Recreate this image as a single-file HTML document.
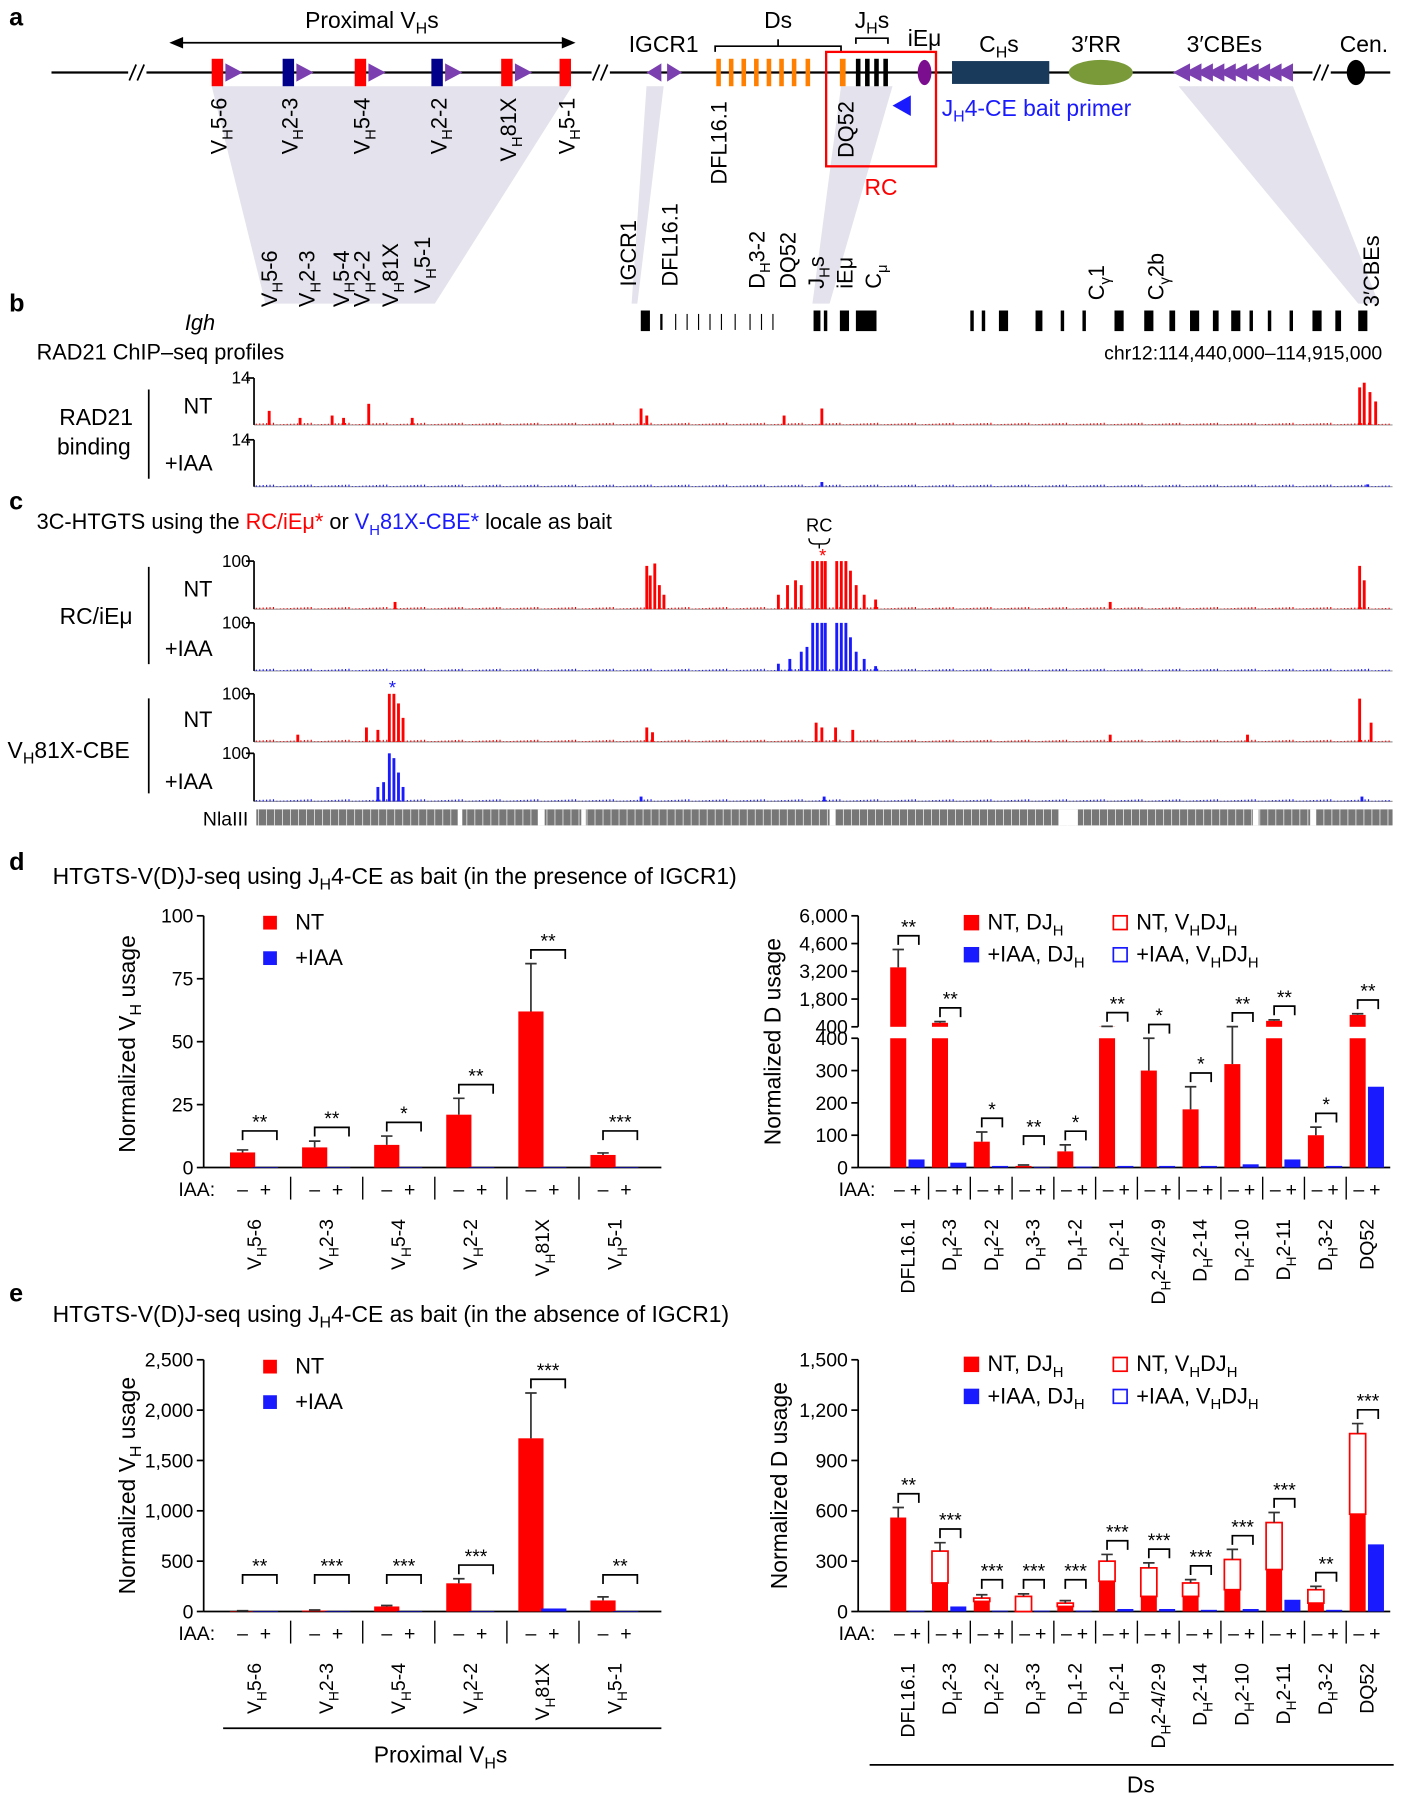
<!DOCTYPE html>
<html><head><meta charset="utf-8"><style>
html,body{margin:0;padding:0;background:#fff;}
svg{display:block;font-family:"Liberation Sans",Arial,sans-serif;}
text{font-family:"Liberation Sans",Arial,sans-serif;}
</style></head><body>
<svg id="fig" xmlns="http://www.w3.org/2000/svg" width="1412" height="1795" viewBox="0 0 1234 1568">
<rect x="0" y="0" width="1234" height="1568" fill="#fff"/>
<g id="panelA">
<g fill="#e4e2ec">
<polygon points="185,75 500,75 380,265 232,265"/>
<polygon points="565,75 580,75 557,265 552,265"/>
<polygon points="735,75 780,75 725,265 710,265"/>
<polygon points="1030,75 1130,75 1205,265 1187,265"/>
</g>
<text x="8" y="22" font-size="22" font-weight="bold">a</text>
<line x1="45" y1="63" x2="1215" y2="63" stroke="#000" stroke-width="2"/>
<g fill="#fff" stroke="#000" stroke-width="1.5">
<rect x="112" y="55" width="16" height="16" stroke="none"/><line x1="113" y1="70" x2="119" y2="56"/><line x1="120" y1="70" x2="126" y2="56"/>
<rect x="517" y="55" width="16" height="16" stroke="none"/><line x1="518" y1="70" x2="524" y2="56"/><line x1="525" y1="70" x2="531" y2="56"/>
<rect x="1147" y="55" width="16" height="16" stroke="none"/><line x1="1148" y1="70" x2="1154" y2="56"/><line x1="1155" y1="70" x2="1161" y2="56"/>
</g>
<line x1="155" y1="37" x2="496" y2="37" stroke="#000" stroke-width="1.5"/>
<polygon points="148,37 160,32 160,42" fill="#000"/><polygon points="503,37 491,32 491,42" fill="#000"/>
<text x="325" y="24" font-size="20" text-anchor="middle">Proximal V<tspan font-size="14" dy="5">H</tspan><tspan dy="-5">s</tspan></text>
<g>
<rect x="185" y="51" width="10" height="24" fill="#f00"/><polygon points="197,55 212,63 197,71" fill="#7b3fb0"/>
<rect x="247" y="51" width="10" height="24" fill="#00008b"/><polygon points="259,55 274,63 259,71" fill="#7b3fb0"/>
<rect x="310" y="51" width="10" height="24" fill="#f00"/><polygon points="322,55 337,63 322,71" fill="#7b3fb0"/>
<rect x="377" y="51" width="10" height="24" fill="#00008b"/><polygon points="389,55 404,63 389,71" fill="#7b3fb0"/>
<rect x="438" y="51" width="10" height="24" fill="#f00"/><polygon points="450,55 465,63 450,71" fill="#7b3fb0"/>
<rect x="489" y="51" width="10" height="24" fill="#f00"/>
</g>
<g font-size="19" text-anchor="end">
<text transform="translate(198,85) rotate(-90)">V<tspan font-size="13" dy="5">H</tspan><tspan dy="-5">5-6</tspan></text>
<text transform="translate(260,85) rotate(-90)">V<tspan font-size="13" dy="5">H</tspan><tspan dy="-5">2-3</tspan></text>
<text transform="translate(323,85) rotate(-90)">V<tspan font-size="13" dy="5">H</tspan><tspan dy="-5">5-4</tspan></text>
<text transform="translate(390,85) rotate(-90)">V<tspan font-size="13" dy="5">H</tspan><tspan dy="-5">2-2</tspan></text>
<text transform="translate(451,85) rotate(-90)">V<tspan font-size="13" dy="5">H</tspan><tspan dy="-5">81X</tspan></text>
<text transform="translate(502,85) rotate(-90)">V<tspan font-size="13" dy="5">H</tspan><tspan dy="-5">5-1</tspan></text>
</g>
<text x="580" y="45" font-size="20" text-anchor="middle">IGCR1</text>
<polygon points="578,55 565,63 578,71" fill="#7b3fb0"/><polygon points="583,55 596,63 583,71" fill="#7b3fb0"/>
<polyline points="625,45 625,40 735,40 735,45" fill="none" stroke="#000" stroke-width="1.5"/>
<line x1="680" y1="40" x2="680" y2="34" stroke="#000" stroke-width="1.5"/>
<text x="680" y="24" font-size="20" text-anchor="middle">Ds</text>
<g fill="#ff7f00">
<rect x="626" y="51" width="4" height="24"/><rect x="637" y="51" width="4" height="24"/><rect x="648" y="51" width="4" height="24"/><rect x="659" y="51" width="4" height="24"/><rect x="670" y="51" width="4" height="24"/><rect x="681" y="51" width="4" height="24"/><rect x="692" y="51" width="4" height="24"/><rect x="704" y="51" width="4" height="24"/><rect x="734" y="51" width="5" height="24"/>
</g>
<polyline points="748,38 748,33 776,33 776,38" fill="none" stroke="#000" stroke-width="1.5"/>
<text x="762" y="24" font-size="20" text-anchor="middle">J<tspan font-size="14" dy="5">H</tspan><tspan dy="-5">s</tspan></text>
<g fill="#000"><rect x="748" y="51" width="4" height="24"/><rect x="756" y="51" width="4" height="24"/><rect x="764" y="51" width="4" height="24"/><rect x="772" y="51" width="4" height="24"/></g>
<ellipse cx="808" cy="63" rx="6" ry="11" fill="#7b0d8f"/>
<text x="808" y="40" font-size="20" text-anchor="middle">iEμ</text>
<rect x="832" y="53" width="85" height="20" fill="#1a3a5c"/>
<text x="873" y="45" font-size="20" text-anchor="middle">C<tspan font-size="14" dy="5">H</tspan><tspan dy="-5">s</tspan></text>
<ellipse cx="962" cy="63" rx="28" ry="11" fill="#7a9a3a"/>
<text x="958" y="45" font-size="20" text-anchor="middle">3′RR</text>
<g fill="#7b3fb0">
<polygon points="1040,55 1025,63 1040,71"/><polygon points="1050,55 1035,63 1050,71"/><polygon points="1060,55 1045,63 1060,71"/><polygon points="1070,55 1055,63 1070,71"/><polygon points="1080,55 1065,63 1080,71"/><polygon points="1090,55 1075,63 1090,71"/><polygon points="1100,55 1085,63 1100,71"/><polygon points="1110,55 1095,63 1110,71"/><polygon points="1120,55 1105,63 1120,71"/><polygon points="1130,55 1115,63 1130,71"/>
</g>
<text x="1070" y="45" font-size="20" text-anchor="middle">3′CBEs</text>
<ellipse cx="1185" cy="63" rx="8" ry="11" fill="#000"/>
<text x="1192" y="45" font-size="20" text-anchor="middle">Cen.</text>
<rect x="722" y="45" width="96" height="100" fill="none" stroke="#f00" stroke-width="2"/>
<text x="770" y="170" font-size="20" fill="#f00" text-anchor="middle">RC</text>
<polygon points="780,92 796,83 796,101" fill="#1a1aff"/>
<text x="823" y="101" font-size="20" fill="#1a1aff">J<tspan font-size="14" dy="5">H</tspan><tspan dy="-5">4-CE bait primer</tspan></text>
<text transform="translate(635,88) rotate(-90)" font-size="19" text-anchor="end">DFL16.1</text>
<text transform="translate(746,88) rotate(-90)" font-size="19" text-anchor="end">DQ52</text>
</g>
<g id="panelB">
<text x="8" y="272" font-size="22" font-weight="bold">b</text>
<g font-size="19">
<text transform="translate(242,268) rotate(-90)">V<tspan font-size="13" dy="5">H</tspan><tspan dy="-5">5-6</tspan></text>
<text transform="translate(275,268) rotate(-90)">V<tspan font-size="13" dy="5">H</tspan><tspan dy="-5">2-3</tspan></text>
<text transform="translate(305,268) rotate(-90)">V<tspan font-size="13" dy="5">H</tspan><tspan dy="-5">5-4</tspan></text>
<text transform="translate(323,268) rotate(-90)">V<tspan font-size="13" dy="5">H</tspan><tspan dy="-5">2-2</tspan></text>
<text transform="translate(348,268) rotate(-90)">V<tspan font-size="13" dy="5">H</tspan><tspan dy="-5">81X</tspan></text>
<text transform="translate(376,256) rotate(-90)">V<tspan font-size="13" dy="5">H</tspan><tspan dy="-5">5-1</tspan></text>
<text transform="translate(556,250) rotate(-90)">IGCR1</text>
<text transform="translate(592,250) rotate(-90)">DFL16.1</text>
<text transform="translate(668,252) rotate(-90)">D<tspan font-size="13" dy="5">H</tspan><tspan dy="-5">3-2</tspan></text>
<text transform="translate(695,252) rotate(-90)">DQ52</text>
<text transform="translate(720,252) rotate(-90)">J<tspan font-size="13" dy="5">H</tspan><tspan dy="-5">s</tspan></text>
<text transform="translate(745,252) rotate(-90)">iEμ</text>
<text transform="translate(770,252) rotate(-90)">C<tspan font-size="13" dy="5">μ</tspan></text>
<text transform="translate(965,262) rotate(-90)">C<tspan font-size="13" dy="5">γ</tspan><tspan dy="-5">1</tspan></text>
<text transform="translate(1017,262) rotate(-90)">C<tspan font-size="13" dy="5">γ</tspan><tspan dy="-5">2b</tspan></text>
<text transform="translate(1205,268) rotate(-90)">3′CBEs</text>
</g>
<text x="188" y="288" font-size="19" font-style="italic" text-anchor="end">Igh</text>
<g id="ighTrack"></g>
<text x="32" y="314" font-size="19">RAD21 ChIP–seq profiles</text>
<text x="1208" y="314" font-size="17" text-anchor="end">chr12:114,440,000–114,915,000</text>
<text x="84" y="371" font-size="20" text-anchor="middle">RAD21</text>
<text x="82" y="397" font-size="20" text-anchor="middle">binding</text>
<line x1="130" y1="340" x2="130" y2="418" stroke="#000" stroke-width="1.5"/>
<text x="173" y="361" font-size="19" text-anchor="middle">NT</text>
<text x="165" y="411" font-size="19" text-anchor="middle">+IAA</text>
<g id="tracksB"></g>
</g>
<g id="panelC">
<text x="8" y="445" font-size="22" font-weight="bold">c</text>
<text x="32" y="462" font-size="19">3C-HTGTS using the <tspan fill="#f00">RC/iEμ*</tspan> or <tspan fill="#1a1aff">V</tspan><tspan fill="#1a1aff" font-size="13" dy="5">H</tspan><tspan fill="#1a1aff" dy="-5">81X-CBE*</tspan> locale as bait</text>
<text x="716" y="464" font-size="16" text-anchor="middle">RC</text>
<path d="M707,470 q0,5 5,5 l4,0 l0,4 m0,-4 l4,0 q5,0 5,-5" fill="none" stroke="#000" stroke-width="1.2"/>
<text x="719" y="491" font-size="16" fill="#f00" text-anchor="middle">*</text>
<text x="343" y="606" font-size="16" fill="#1a1aff" text-anchor="middle">*</text>
<text x="84" y="545" font-size="20" text-anchor="middle">RC/iEμ</text>
<line x1="130" y1="495" x2="130" y2="580" stroke="#000" stroke-width="1.5"/>
<text x="173" y="521" font-size="19" text-anchor="middle">NT</text>
<text x="165" y="573" font-size="19" text-anchor="middle">+IAA</text>
<text x="60" y="662" font-size="20" text-anchor="middle">V<tspan font-size="14" dy="5">H</tspan><tspan dy="-5">81X-CBE</tspan></text>
<line x1="130" y1="610" x2="130" y2="693" stroke="#000" stroke-width="1.5"/>
<text x="173" y="635" font-size="19" text-anchor="middle">NT</text>
<text x="165" y="689" font-size="19" text-anchor="middle">+IAA</text>
<g id="tracksC"></g>
<text x="217" y="721" font-size="17" text-anchor="end">NlaIII</text>
<g id="nla"></g>
</g>
<g id="panelD">
<text x="8" y="760" font-size="22" font-weight="bold">d</text>
<text x="46" y="772" font-size="20">HTGTS-V(D)J-seq using J<tspan font-size="14" dy="5">H</tspan><tspan dy="-5">4-CE as bait (in the presence of IGCR1)</tspan></text>
<g id="dLeft"></g><g id="dRight"></g>
</g>
<g id="panelE">
<text x="8" y="1137" font-size="22" font-weight="bold">e</text>
<text x="46" y="1155" font-size="20">HTGTS-V(D)J-seq using J<tspan font-size="14" dy="5">H</tspan><tspan dy="-5">4-CE as bait (in the absence of IGCR1)</tspan></text>
<g id="eLeft"></g><g id="eRight"></g>
<line x1="195" y1="1510" x2="578" y2="1510" stroke="#000" stroke-width="1.5"/>
<text x="385" y="1540" font-size="20" text-anchor="middle">Proximal V<tspan font-size="14" dy="5">H</tspan><tspan dy="-5">s</tspan></text>
<line x1="760" y1="1542" x2="1218" y2="1542" stroke="#000" stroke-width="1.5"/>
<text x="997" y="1566" font-size="20" text-anchor="middle">Ds</text>
</g>
</svg>
<script>
// ---- data ----
const vhCats = ["5-6","2-3","5-4","2-2","81X","5-1"];
const dVhNT = [6, 8, 9, 21, 62, 5];
const dVhNTerr = [1, 2.5, 3.5, 6.5, 19, 0.8];
const dVhIAA = [0.2, 0.2, 0.2, 0.2, 0.2, 0.2];
const dVhSig = ["**","**","*","**","**","***"];
const dVhTicks = [0, 25, 50, 75, 100];
const dCats = ["DFL16.1","2-3","2-2","3-3","1-2","2-1","2-4/2-9","2-14","2-10","2-11","3-2","DQ52"];
const dDNT = [3400, 600, 80, 5, 50, 410, 300, 180, 320, 700, 100, 1000];
const dDNTerr = [900, 60, 30, 3, 20, 12, 100, 70, 90, 50, 25, 60];
const dDIAA = [25, 15, 5, 2, 3, 5, 5, 5, 10, 25, 5, 250];
const dDSig = ["**","**","*","**","*","**","*","*","**","**","*","**"];
const dDTicksLow = [0, 100, 200, 300, 400];
const dDTicksHigh = [400, 1800, 3200, 4600, 6000];
const eVhNT = [5, 10, 50, 280, 1720, 110];
const eVhNTerr = [3, 5, 10, 45, 450, 35];
const eVhIAA = [5, 5, 5, 5, 30, 5];
const eVhSig = ["**","***","***","***","***","**"];
const eVhTicks = [0, 500, 1000, 1500, 2000, 2500];
const eDNT = [560, 170, 60, 0, 30, 180, 90, 90, 130, 250, 50, 580];
const eDTotal = [560, 360, 80, 90, 50, 300, 260, 170, 310, 530, 130, 1060];
const eDerr = [60, 50, 20, 15, 15, 40, 30, 20, 60, 60, 20, 60];
const eDIAA = [5, 30, 5, 5, 5, 15, 15, 10, 15, 70, 10, 400];
const eDSig = ["**","***","***","***","***","***","***","***","***","***","**","***"];
const eDTicks = [0, 300, 600, 900, 1200, 1500];
// track peaks: [genomic x position in display units, relative height 0-1]
const radNT = [[235,.3],[262,.15],[290,.2],[300,.15],[322,.45],[360,.15],[560,.35],[565,.2],[685,.2],[718,.35],[1188,.8],[1192,.9],[1197,.7],[1202,.5]];
const radIAA = [[718,.1],[1195,.05]];
const rcNT = [[345,.15],[565,.9],[568,.7],[572,.95],[576,.5],[580,.3],[680,.3],[688,.5],[695,.6],[700,.5],[710,1],[714,1],[718,1],[721,1],[731,1],[735,1],[739,1],[743,.8],[748,.5],[755,.3],[765,.2],[970,.15],[1188,.9],[1192,.6]];
const rcIAA = [[680,.15],[690,.25],[700,.4],[705,.5],[710,1],[714,1],[718,1],[721,1],[731,1],[735,1],[739,1],[743,.7],[748,.4],[755,.25],[765,.1]];
const vhNT = [[260,.15],[320,.3],[330,.25],[340,1],[344,1],[348,.8],[352,.5],[565,.3],[570,.2],[713,.4],[718,.3],[730,.3],[745,.25],[970,.15],[1090,.15],[1188,.9],[1198,.4]];
const vhIAA = [[330,.3],[335,.4],[340,1],[344,.9],[348,.6],[352,.3],[560,.1],[720,.1],[1190,.1]];
const ighBlocks = [[560,8],[577,2],[590,1],[600,1],[610,1],[620,1],[630,1],[642,1],[655,1],[665,1],[675,1],[711,6],[720,3],[734,8],[748,18],[848,3],[858,3],[873,8],[905,6],[927,3],[946,3],[974,8],[1000,8],[1022,5],[1040,8],[1060,5],[1076,8],[1092,3],[1108,3],[1127,3],[1147,8],[1167,5],[1187,8]];
const nlaGaps = [[400,404],[470,476],[508,512],[725,730],[925,942],[1095,1100],[1145,1150]];

const NS="http://www.w3.org/2000/svg";
function mk(parent, tag, attrs, name){
  const el=document.createElementNS(NS,tag);
  for(const k in attrs) el.setAttribute(k,attrs[k]);
  
  
  parent.appendChild(el); return el;
}
function txt(parent,x,y,s,size,anchor,name,extra){
  const t=mk(parent,'text',Object.assign({x:x,y:y,'font-size':size,'text-anchor':anchor||'start'},extra||{}),name);
  t.textContent=s; return t;
}
const igh=document.getElementById('ighTrack');
ighBlocks.forEach(b=>{ mk(igh,'rect',{x:b[0],y:b[1]>2?271:274,width:b[1],height:b[1]>2?18:14,fill:'#000'},'igh-exon'); });
function track(g,base,h,peaks,color,maxLabel,name){
  mk(g,'line',{x1:222,y1:base,x2:1217,y2:base,stroke:'#999','stroke-width':1},name+'-baseline');
  mk(g,'line',{x1:222,y1:base,x2:222,y2:base-h,stroke:'#000','stroke-width':1.5},name+'-axis');
  mk(g,'line',{x1:215,y1:base-h,x2:222,y2:base-h,stroke:'#000','stroke-width':1.5},name+'-tick');
  txt(g,219,base-h+5,maxLabel,15,'end',name+'-max-label');
  let d='';
  for(let x=224;x<1216;x+=3){ const n=((x*37)%11)/11; d+=`M${x},${base}v${-(0.5+n*1.5)}`; }
  mk(g,'path',{d:d,stroke:color,'stroke-width':1,fill:'none'},name+'-noise');
  peaks.forEach(p=>{
    mk(g,'rect',{x:p[0]-1,y:base-p[1]*h,width:2.5,height:p[1]*h,fill:color},name+'-peak');
  });
}
const tb=document.getElementById('tracksB');
track(tb,371,41,radNT,'#f00','14','rad21-nt');
track(tb,425,41,radIAA,'#1a1aff','14','rad21-iaa');
const tc=document.getElementById('tracksC');
track(tc,532,42,rcNT,'#f00','100','rc-nt');
track(tc,586,42,rcIAA,'#1a1aff','100','rc-iaa');
track(tc,648,42,vhNT,'#f00','100','vh81x-nt');
track(tc,700,42,vhIAA,'#1a1aff','100','vh81x-iaa');
const nla=document.getElementById('nla');
mk(nla,'rect',{x:224,y:707,width:993,height:14,fill:'#777'},'nlaiii-bar');
nlaGaps.forEach(gp=>mk(nla,'rect',{x:gp[0],y:707,width:gp[1]-gp[0],height:14,fill:'#fff'},'nlaiii-gap'));
for(let x=226;x<1216;x+=7) mk(nla,'line',{x1:x,y1:707,x2:x,y2:721,stroke:'#fff','stroke-width':0.6},'nlaiii-site');

function vhLabel(g,x,y,cat){
  const t=mk(g,'text',{transform:`translate(${x+6},${y}) rotate(-90)`,'font-size':17,'text-anchor':'end'},'x-tick-label');
  t.innerHTML=`V<tspan font-size="12" dy="5">H</tspan><tspan dy="-5">${cat}</tspan>`;
}
function dLabel(g,x,y,cat){
  const t=mk(g,'text',{transform:`translate(${x+6},${y}) rotate(-90)`,'font-size':17,'text-anchor':'end'},'x-tick-label');
  if(cat==='DFL16.1'||cat==='DQ52') t.textContent=cat;
  else t.innerHTML=`D<tspan font-size="12" dy="5">H</tspan><tspan dy="-5">${cat}</tspan>`;
}
function sigBracket(g,x1,x2,y,s){
  mk(g,'path',{d:`M${x1},${y+8}V${y}H${x2}V${y+8}`,fill:'none',stroke:'#000','stroke-width':1.5},'significance-bracket');
  txt(g,(x1+x2)/2,y-2,s,17,'middle','significance-mark');
}
function errBar(g,x,y1,y2){
  mk(g,'path',{d:`M${x},${y1}V${y2}M${x-5},${y2}H${x+5}`,stroke:'#333','stroke-width':1.5,fill:'none'},'error-bar');
}
function iaaRow(g,x0,y,groups,dx){
  txt(g,x0,y,'IAA:',17,'end','iaa-row-label');
  groups.forEach(c=>{ txt(g,c-dx,y,'–',17,'middle','iaa-minus'); txt(g,c+dx,y,'+',17,'middle','iaa-plus'); });
}
function legend2(g,x,y){
  mk(g,'rect',{x:x,y:y-12,width:12,height:12,fill:'#f00'},'legend-nt-swatch'); txt(g,x+28,y,'NT',19,'start','legend-nt');
  mk(g,'rect',{x:x,y:y+19,width:12,height:12,fill:'#1a1aff'},'legend-iaa-swatch'); txt(g,x+28,y+31,'+IAA',19,'start','legend-iaa');
}
function legend4(g,x,y){
  const items=[[x,y,'#f00',true,'NT, DJ'],[x+130,y,'#f00',false,'NT, V'],[x,y+28,'#1a1aff',true,'+IAA, DJ'],[x+130,y+28,'#1a1aff',false,'+IAA, V']];
  items.forEach(it=>{
    mk(g,'rect',{x:it[0],y:it[1]-12,width:12,height:12,fill:it[3]?it[2]:'#fff',stroke:it[2],'stroke-width':1.5},'legend-swatch');
    const t=mk(g,'text',{x:it[0]+20,y:it[1],'font-size':19},'legend-entry');
    if(it[4].endsWith('DJ')) t.innerHTML=it[4]+'<tspan font-size="13" dy="5">H</tspan>';
    else t.innerHTML=it[4]+'<tspan font-size="13" dy="5">H</tspan><tspan dy="-5">DJ</tspan><tspan font-size="13" dy="5">H</tspan>';
  });
}
function vhChart(gid,ax,y0,yTop,ticks,nt,err,iaa,sig,ylabelY,tickFmt){
  const g=document.getElementById(gid);
  const max=ticks[ticks.length-1];
  const y=v=>y0-v/max*(y0-yTop);
  const centers=vhCats.map((c,i)=>ax+44+i*63);
  mk(g,'line',{x1:ax,y1:y0,x2:ax+400,y2:y0,stroke:'#000','stroke-width':1.5},'x-axis');
  mk(g,'line',{x1:ax,y1:y0,x2:ax,y2:yTop,stroke:'#000','stroke-width':1.5},'y-axis');
  ticks.forEach(t=>{ mk(g,'line',{x1:ax-6,y1:y(t),x2:ax,y2:y(t),stroke:'#000','stroke-width':1.5},'y-tick'); txt(g,ax-9,y(t)+6,tickFmt(t),17,'end','y-tick-label'); });
  const yl=mk(g,'text',{transform:`translate(${ax-60},${ylabelY}) rotate(-90)`,'font-size':20,'text-anchor':'middle'},'y-axis-title');
  yl.innerHTML='Normalized V<tspan font-size="14" dy="5">H</tspan><tspan dy="-5"> usage</tspan>';
  centers.forEach((c,i)=>{
    const bx=c-10;
    mk(g,'rect',{x:bx-11,y:y(nt[i]),width:22,height:y0-y(nt[i]),fill:'#f00'},'bar-nt');
    errBar(g,bx,y(nt[i]),y(nt[i]+err[i]));
    mk(g,'rect',{x:c+10-11,y:y(iaa[i]),width:22,height:Math.max(0,y0-y(iaa[i])),fill:'#1a1aff'},'bar-iaa');
    const top=y(nt[i]+err[i]);
    sigBracket(g,c-10,c+20,Math.min(top,y0-20)-12,sig[i]);
    if(i>0) mk(g,'line',{x1:c-31,y1:y0+8,x2:c-31,y2:y0+28,stroke:'#000','stroke-width':1.2},'group-separator');
    vhLabel(g,c,y0+45,vhCats[i]);
  });
  iaaRow(g,ax+10,y0+25,centers,10);
  legend2(g,ax+52,yTop+12);
}
vhChart('dLeft',178,1020,800,dVhTicks,dVhNT,dVhNTerr,dVhIAA,dVhSig,912,t=>String(t));
vhChart('eLeft',178,1408,1188,eVhTicks,eVhNT,eVhNTerr,eVhIAA,eVhSig,1298,t=>t.toLocaleString('en-US'));

(function(){
  const g=document.getElementById('dRight');
  const ax=750,y0=1020,lowTop=907,hiBot=897,hiTop=800;
  const yL=v=>y0-v/400*(y0-lowTop);
  const yH=v=>hiBot-(v-400)/5600*(hiBot-hiTop);
  const centers=dCats.map((c,i)=>ax+43+i*36.5);
  mk(g,'line',{x1:ax,y1:y0,x2:1215,y2:y0,stroke:'#000','stroke-width':1.5},'x-axis');
  mk(g,'line',{x1:ax,y1:y0,x2:ax,y2:lowTop,stroke:'#000','stroke-width':1.5},'y-axis-lower');
  mk(g,'line',{x1:ax,y1:hiBot,x2:ax,y2:hiTop,stroke:'#000','stroke-width':1.5},'y-axis-upper');
  dDTicksLow.forEach(t=>{ mk(g,'line',{x1:ax-6,y1:yL(t),x2:ax,y2:yL(t),stroke:'#000','stroke-width':1.5},'y-tick'); txt(g,ax-9,yL(t)+6,String(t),17,'end','y-tick-label'); });
  dDTicksHigh.forEach(t=>{ mk(g,'line',{x1:ax-6,y1:yH(t),x2:ax,y2:yH(t),stroke:'#000','stroke-width':1.5},'y-tick'); txt(g,ax-9,yH(t)+6,t.toLocaleString('en-US'),17,'end','y-tick-label'); });
  const yl=mk(g,'text',{transform:`translate(${ax-68},910) rotate(-90)`,'font-size':20,'text-anchor':'middle'},'y-axis-title');
  yl.textContent='Normalized D usage';
  const yv=v=>v<=400?yL(v):yH(v);
  centers.forEach((c,i)=>{
    const bx=c-8, v=dDNT[i];
    if(v<=400) mk(g,'rect',{x:bx-7,y:yL(v),width:14,height:y0-yL(v),fill:'#f00'},'bar-nt');
    else { mk(g,'rect',{x:bx-7,y:lowTop,width:14,height:y0-lowTop,fill:'#f00'},'bar-nt-lower');
           mk(g,'rect',{x:bx-7,y:yH(v),width:14,height:hiBot-yH(v),fill:'#f00'},'bar-nt-upper'); }
    const te=yv(v+dDNTerr[i]);
    errBar(g,bx,yv(v),te);
    const iv=dDIAA[i];
    mk(g,'rect',{x:c+8-7,y:yv(iv),width:14,height:y0-yv(iv),fill:'#1a1aff'},'bar-iaa');
    sigBracket(g,c-8,c+10,Math.min(te,yv(iv)-15)-12,dDSig[i]);
    if(i>0) mk(g,'line',{x1:c-18,y1:y0+8,x2:c-18,y2:y0+28,stroke:'#000','stroke-width':1.2},'group-separator');
    dLabel(g,c,y0+45,dCats[i]);
  });
  iaaRow(g,ax+15,y0+25,centers,7);
  legend4(g,843,812);
})();
(function(){
  const g=document.getElementById('eRight');
  const ax=750,y0=1408,yTop=1188,max=1500;
  const y=v=>y0-v/max*(y0-yTop);
  const centers=dCats.map((c,i)=>ax+43+i*36.5);
  mk(g,'line',{x1:ax,y1:y0,x2:1215,y2:y0,stroke:'#000','stroke-width':1.5},'x-axis');
  mk(g,'line',{x1:ax,y1:y0,x2:ax,y2:yTop,stroke:'#000','stroke-width':1.5},'y-axis');
  eDTicks.forEach(t=>{ mk(g,'line',{x1:ax-6,y1:y(t),x2:ax,y2:y(t),stroke:'#000','stroke-width':1.5},'y-tick'); txt(g,ax-9,y(t)+6,t.toLocaleString('en-US'),17,'end','y-tick-label'); });
  const yl=mk(g,'text',{transform:`translate(${ax-62},1298) rotate(-90)`,'font-size':20,'text-anchor':'middle'},'y-axis-title');
  yl.textContent='Normalized D usage';
  centers.forEach((c,i)=>{
    const bx=c-8;
    mk(g,'rect',{x:bx-7,y:y(eDNT[i]),width:14,height:y0-y(eDNT[i]),fill:'#f00'},'bar-nt-djh');
    if(eDTotal[i]>eDNT[i]) mk(g,'rect',{x:bx-7,y:y(eDTotal[i]),width:14,height:y(eDNT[i])-y(eDTotal[i]),fill:'#fff',stroke:'#f00','stroke-width':1.5},'bar-nt-vhdjh');
    const te=y(eDTotal[i]+eDerr[i]);
    errBar(g,bx,y(eDTotal[i]),te);
    mk(g,'rect',{x:c+8-7,y:y(eDIAA[i]),width:14,height:y0-y(eDIAA[i]),fill:'#1a1aff'},'bar-iaa');
    sigBracket(g,c-8,c+10,Math.min(te,y(eDIAA[i])-15)-12,eDSig[i]);
    if(i>0) mk(g,'line',{x1:c-18,y1:y0+8,x2:c-18,y2:y0+28,stroke:'#000','stroke-width':1.2},'group-separator');
    dLabel(g,c,y0+45,dCats[i]);
  });
  iaaRow(g,ax+15,y0+25,centers,7);
  legend4(g,843,1198);
})();
</script>
</body></html>
